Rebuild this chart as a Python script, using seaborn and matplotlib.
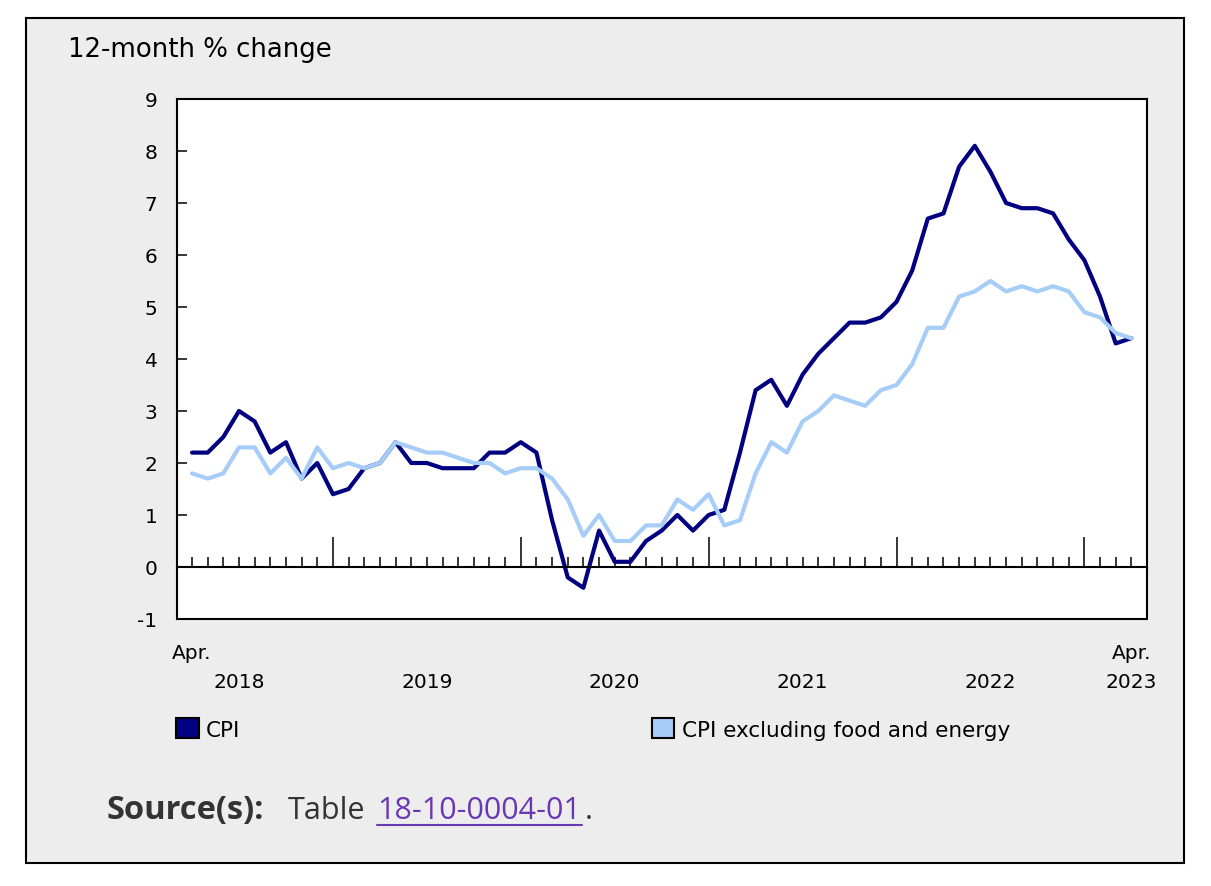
import matplotlib
matplotlib.use('Agg')
import matplotlib.pyplot as plt
import matplotlib.patches as mpatches
import matplotlib.transforms as mtransforms
from matplotlib.lines import Line2D
import numpy as np
import pandas as pd
import seaborn as sns

# monthly, Apr. 2018 to Apr. 2023
months = pd.period_range('2018-04', '2023-04', freq='M')
cpi = [2.2, 2.2, 2.5, 3.0, 2.8, 2.2, 2.4, 1.7, 2.0,
       1.4, 1.5, 1.9, 2.0, 2.4, 2.0, 2.0, 1.9, 1.9, 1.9, 2.2, 2.2,
       2.4, 2.2, 0.9, -0.2, -0.4, 0.7, 0.1, 0.1, 0.5, 0.7, 1.0, 0.7,
       1.0, 1.1, 2.2, 3.4, 3.6, 3.1, 3.7, 4.1, 4.4, 4.7, 4.7, 4.8,
       5.1, 5.7, 6.7, 6.8, 7.7, 8.1, 7.6, 7.0, 6.9, 6.9, 6.8, 6.3,
       5.9, 5.2, 4.3, 4.4]
core = [1.8, 1.7, 1.8, 2.3, 2.3, 1.8, 2.1, 1.7, 2.3,
        1.9, 2.0, 1.9, 2.0, 2.4, 2.3, 2.2, 2.2, 2.1, 2.0, 2.0, 1.8,
        1.9, 1.9, 1.7, 1.3, 0.6, 1.0, 0.5, 0.5, 0.8, 0.8, 1.3, 1.1,
        1.4, 0.8, 0.9, 1.8, 2.4, 2.2, 2.8, 3.0, 3.3, 3.2, 3.1, 3.4,
        3.5, 3.9, 4.6, 4.6, 5.2, 5.3, 5.5, 5.3, 5.4, 5.3, 5.4, 5.3,
        4.9, 4.8, 4.5, 4.4]
series_names = ['CPI', 'CPI excluding food and energy']
series_colors = ['#000080', '#a6cdf7']
year_labels = ['2018', '2019', '2020', '2021', '2022', '2023']
y_ticks = list(range(-1, 10))

df = pd.DataFrame({'month': np.arange(len(months)), series_names[0]: cpi, series_names[1]: core})
long_df = df.melt(id_vars='month', var_name='series', value_name='pct')

sns.set_style('white')
plt.rcParams['font.family'] = ['DejaVu Sans']
plt.rcParams['text.color'] = 'black'
plt.rcParams['ytick.color'] = 'black'

W, H = 1211, 887
fig = plt.figure(figsize=(W / 100, H / 100), dpi=100, facecolor='white')

# grey panel with black frame
fig.patches.append(mpatches.Rectangle((26 / W, 1 - 864 / H), (1184 - 26) / W, (864 - 19) / H,
                                      transform=fig.transFigure, facecolor='#ededed',
                                      edgecolor='black', lw=1.5, zorder=-1))

ax = fig.add_axes([177 / W, 1 - 620 / H, (1147 - 177) / W, (620 - 100) / H])
ax.set_zorder(1)
ax.set_facecolor('white')

sns.lineplot(data=long_df, x='month', y='pct', hue='series', hue_order=series_names,
             palette=series_colors, linewidth=3, legend=False, ax=ax)

ax.set_xlim(-0.96, 61.0)
ax.set_ylim(-1, 9)
ax.set_xlabel('')
ax.set_ylabel('')

for s in ax.spines.values():
    s.set_visible(True)
    s.set_color('black')
    s.set_linewidth(1.5)
ax.spines['bottom'].set_position(('data', 0))
ax.plot([0, 1], [0, 0], transform=ax.transAxes, color='black', lw=1.5, clip_on=False)

jan = [i for i, m in enumerate(months) if m.month == 1]
other = [i for i, m in enumerate(months) if m.month != 1]
ax.set_xticks(jan)
ax.set_xticks(other, minor=True)
ax.tick_params(axis='x', which='both', direction='in', bottom=True, labelbottom=False,
               width=1.1, color='black')
ax.tick_params(axis='x', which='major', length=21.6)
ax.tick_params(axis='x', which='minor', length=7.2)

ax.set_yticks(y_ticks)
ax.set_yticklabels([str(v) for v in y_ticks])
ax.tick_params(axis='y', direction='in', left=True, length=7.2, width=1.1, color='black',
               labelsize=14.5, pad=14, labelcolor='black')

# x labels: "Apr." at ends, years centred at July
trans = mtransforms.blended_transform_factory(ax.transData, ax.transAxes)
for idx in (0, len(months) - 1):
    ax.text(idx, -0.0635, 'Apr.', transform=trans, ha='center', va='center', fontsize=14.5)
for yl in year_labels:
    pos = [i for i, m in enumerate(months) if m.year == int(yl) and m.month == 7]
    idx = pos[0] if pos else len(months) - 1
    ax.text(idx, -0.121, yl, transform=trans, ha='center', va='center', fontsize=14.5)

fig.text(68 / W, 1 - 50 / H, '12-month % change', fontsize=18.7, ha='left', va='center')

handles = [mpatches.Patch(facecolor=c, edgecolor='black', lw=1.5, label=n)
           for n, c in zip(series_names, series_colors)]
fig.legend(handles=handles, ncol=2, loc='center left', bbox_to_anchor=(176 / W, 1 - 730 / H),
           frameon=False, fontsize=15.5, handlelength=1.05, handleheight=1.05,
           handletextpad=0.35, columnspacing=19.1, borderpad=0, borderaxespad=0)

# source line
src_y = 1 - 811 / H
link_col = '#6b38b4'
src_font = ['Open Sans', 'Noto Sans', 'DejaVu Sans']
fig.text(107 / W, src_y, 'Source(s):', fontsize=23.5, fontweight='bold', color='#333333',
         family=src_font, va='center')
fig.text(288 / W, src_y, 'Table', fontsize=22, color='#333333', family=src_font, va='center')
fig.text(377 / W, src_y, '18-10-0004-01', fontsize=22, color=link_col, family=src_font, va='center')
fig.text(585 / W, src_y, '.', fontsize=22, color='#333333', family=src_font, va='center')
fig.lines.append(Line2D([377 / W, 582 / W], [1 - 826 / H, 1 - 826 / H], transform=fig.transFigure,
                        color=link_col, lw=1.5))

fig.savefig('out.png', dpi=100, facecolor='white')
